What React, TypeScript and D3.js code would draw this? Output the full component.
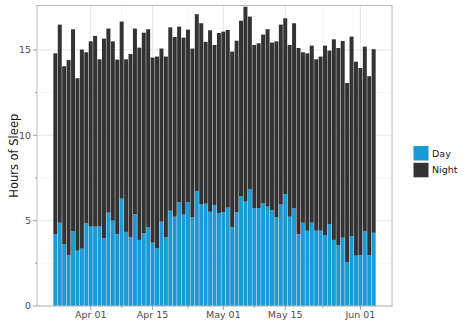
import React from 'react';
import * as d3 from 'd3';

// Categories: one bar per day
const firstDay = '2019-03-24';
const lastDay = '2019-06-04';

// Series values (hours)
const dayHours = [
  4.20, 4.88, 3.63, 2.99, 4.37, 3.24, 3.36, 4.84, 4.65, 4.65,
  4.65, 3.96, 5.47, 5.00, 4.20, 6.29, 4.34, 4.02, 5.37, 3.87,
  4.26, 4.61, 3.71, 3.38, 4.94, 4.02, 5.58, 5.23, 6.07, 5.35,
  6.09, 5.19, 6.74, 5.94, 5.99, 5.52, 5.92, 5.43, 5.49, 5.76,
  4.63, 5.49, 6.43, 6.11, 6.85, 5.72, 5.74, 6.03, 5.82, 5.60,
  5.19, 5.94, 6.56, 5.23, 5.72, 4.20, 4.88, 4.41, 4.88, 4.41,
  4.41, 4.16, 4.80, 3.87, 3.56, 4.00, 2.58, 4.10, 2.95, 2.99,
  4.37, 2.97, 4.29,
];
const nightHours = [
  10.60, 11.60, 10.41, 11.42, 11.84, 10.10, 11.66, 10.02, 10.85, 11.17,
  9.80, 11.70, 10.78, 10.50, 10.23, 10.37, 10.11, 10.74, 10.88, 11.26,
  11.75, 11.60, 10.84, 11.23, 10.14, 10.59, 10.74, 10.53, 10.29, 10.37,
  10.10, 9.89, 10.35, 10.62, 9.48, 10.63, 9.37, 10.56, 10.58, 10.41,
  10.27, 10.05, 10.28, 11.42, 10.10, 9.57, 9.65, 9.87, 10.39, 9.83,
  10.31, 10.54, 10.29, 10.06, 10.84, 10.91, 9.98, 10.39, 10.37, 10.04,
  10.20, 11.09, 10.16, 11.75, 11.55, 11.52, 10.48, 11.68, 11.36, 10.95,
  10.82, 10.49, 10.75,
];

const seriesNames = ['Day', 'Night'];
const seriesColors = ['#1b9ad6', '#333333'];

const xMajorTicks = ['2019-04-01', '2019-04-15', '2019-05-01', '2019-05-15', '2019-06-01'];
const yMajorTicks = [0, 5, 10, 15];
const yMinorTicks = [2.5, 7.5, 12.5];
const yTitle = 'Hours of Sleep';

const parse = d3.utcParse('%Y-%m-%d');
const fmt = d3.utcFormat('%b %d');

export default function App() {
  const W = 474, H = 327;
  const pl = 37, pr = 392, pt = 5.5, pb = 306;
  const font = 'DejaVu Sans, sans-serif';

  const dates = d3.utcDay.range(parse(firstDay)!, d3.utcDay.offset(parse(lastDay)!, 1));
  const dayMs = 86400000;
  const span = dates.length * dayMs;
  const x0 = dates[0].getTime() - dayMs / 2 - span * 0.05;
  const x1 = dates[dates.length - 1].getTime() + dayMs / 2 + span * 0.05;
  const x = d3.scaleUtc().domain([new Date(x0), new Date(x1)]).range([pl, pr]);
  const y = d3.scaleLinear().domain([0, 17.6]).range([pb, pt]);
  const bw = (x(new Date(x0 + dayMs)) - x(new Date(x0))) * 0.9;

  const table = dates.map((d, i) => ({ date: d, Day: dayHours[i], Night: nightHours[i] }));
  const stack = d3.stack<any>().keys(seriesNames)(table);

  const majors = xMajorTicks.map((s) => parse(s)!);
  const minors = majors.slice(1).map((d, i) => new Date((d.getTime() + majors[i].getTime()) / 2));

  const tickCol = '#a0a0a0';
  const labCol = '#4d4d4d';

  return (
    <svg width={W} height={H} style={{ position: 'absolute', left: 0, top: 0, background: '#fff' }}>
      <rect x={0} y={0} width={W} height={H} fill="#fff" />
      {/* grid */}
      {yMinorTicks.map((v) => (
        <line key={'ym' + v} x1={pl} x2={pr} y1={y(v)} y2={y(v)} stroke="#f0f0f0" strokeWidth={0.6} />
      ))}
      {minors.map((d, i) => (
        <line key={'xm' + i} x1={x(d)} x2={x(d)} y1={pt} y2={pb} stroke="#f0f0f0" strokeWidth={0.6} />
      ))}
      {yMajorTicks.map((v) => (
        <line key={'yg' + v} x1={pl} x2={pr} y1={y(v)} y2={y(v)} stroke="#e3e3e3" strokeWidth={0.9} />
      ))}
      {majors.map((d, i) => (
        <line key={'xg' + i} x1={x(d)} x2={x(d)} y1={pt} y2={pb} stroke="#e3e3e3" strokeWidth={0.9} />
      ))}
      {/* bars */}
      {stack.map((layer, si) => (
        <g key={seriesNames[si]} fill={seriesColors[si]}>
          {layer.map((seg, i) => (
            <rect
              key={i}
              x={x(dates[i]) - bw / 2}
              y={y(seg[1])}
              width={bw}
              height={y(seg[0]) - y(seg[1])}
            />
          ))}
        </g>
      ))}
      {/* panel border */}
      <rect x={pl} y={pt} width={pr - pl} height={pb - pt} fill="none" stroke="#b8b8b8" strokeWidth={1} />
      {/* y ticks */}
      {yMajorTicks.map((v) => (
        <g key={'yt' + v}>
          <line x1={pl - 4} x2={pl} y1={y(v)} y2={y(v)} stroke={tickCol} strokeWidth={1} />
          <text x={pl - 6} y={y(v)} dy="0.35em" textAnchor="end" fontSize={9.5} fill={labCol} fontFamily={font}>
            {v}
          </text>
        </g>
      ))}
      {yMinorTicks.map((v) => (
        <line key={'ymt' + v} x1={pl - 2} x2={pl} y1={y(v)} y2={y(v)} stroke={tickCol} strokeWidth={1} />
      ))}
      {/* x ticks */}
      {majors.map((d, i) => (
        <g key={'xt' + i}>
          <line x1={x(d)} x2={x(d)} y1={pb} y2={pb + 4} stroke={tickCol} strokeWidth={1} />
          <text x={x(d)} y={318} textAnchor="middle" fontSize={9.5} fill={labCol} fontFamily={font}>
            {fmt(d)}
          </text>
        </g>
      ))}
      {minors.map((d, i) => (
        <line key={'xmt' + i} x1={x(d)} x2={x(d)} y1={pb} y2={pb + 2} stroke={tickCol} strokeWidth={1} />
      ))}
      {/* y title */}
      <text
        transform={`translate(13.5,${(pt + pb) / 2}) rotate(-90)`}
        textAnchor="middle"
        dy="0.35em"
        fontSize={11.5}
        fill="#1a1a1a"
        fontFamily={font}
      >
        {yTitle}
      </text>
      {/* legend */}
      {seriesNames.map((name, i) => (
        <g key={'lg' + name} transform={`translate(413.5,${146 + i * 16.8})`}>
          <rect x={0} y={0} width={15} height={14.5} fill={seriesColors[i]} />
          <text x={18.5} y={7.3} dy="0.35em" fontSize={9.5} fill="#1a1a1a" fontFamily={font}>
            {name}
          </text>
        </g>
      ))}
    </svg>
  );
}
